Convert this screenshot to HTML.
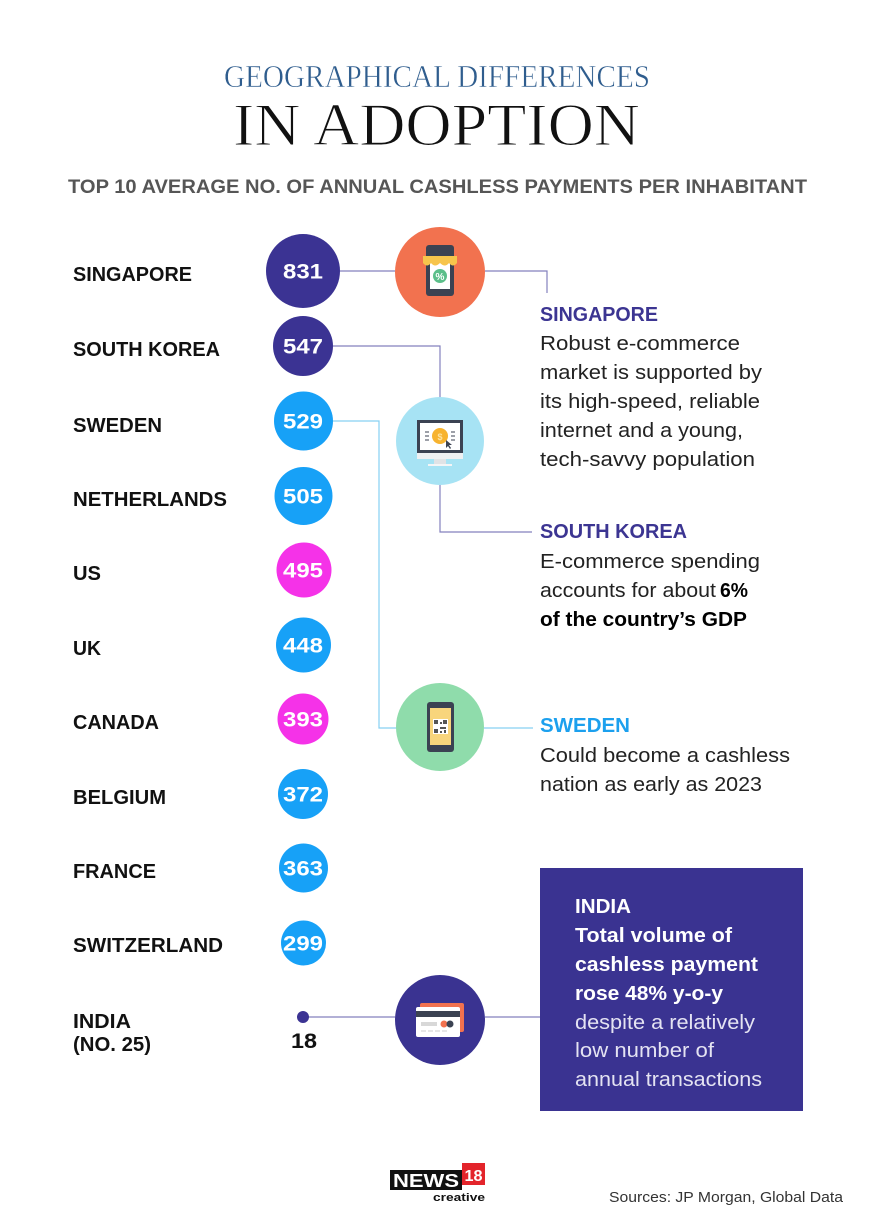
<!DOCTYPE html>
<html><head><meta charset="utf-8"><style>
html,body{margin:0;padding:0;background:#fff;}
svg{display:block;}
text{font-family:"Liberation Sans",sans-serif;}
</style></head><body>
<svg width="875" height="1225" viewBox="0 0 875 1225" xmlns="http://www.w3.org/2000/svg">
<rect width="875" height="1225" fill="#ffffff"/>
<!-- Title -->
<text x="224" y="87" style="font-family:'Liberation Serif',serif" font-size="32" fill="#2f5d8e" stroke="#ffffff" stroke-width="0.5" textLength="426" lengthAdjust="spacingAndGlyphs">GEOGRAPHICAL DIFFERENCES</text>
<text x="233" y="145" style="font-family:'Liberation Serif',serif" font-size="60" fill="#111" stroke="#ffffff" stroke-width="1" textLength="407" lengthAdjust="spacingAndGlyphs">IN ADOPTION</text>
<text x="68" y="193" font-size="19" font-weight="bold" fill="#565656" textLength="739" lengthAdjust="spacingAndGlyphs">TOP 10 AVERAGE NO. OF ANNUAL CASHLESS PAYMENTS PER INHABITANT</text>

<!-- connector lines -->
<g fill="none" stroke-width="1.2">
<path d="M340 271 H395 M485 271 H547 V293" stroke="#8481bd"/>
<path d="M333 346 H440 V397 M440 485 V532 H532" stroke="#8481bd"/>
<path d="M333 421 H379 V728 H397 M484 728 H533" stroke="#86d0f2"/>
<path d="M303 1017 H395 M485 1017 H540" stroke="#8481bd"/>
</g>

<!-- Left labels -->
<g font-size="20" font-weight="bold" fill="#111">
<text x="73" y="281" textLength="119" lengthAdjust="spacingAndGlyphs">SINGAPORE</text>
<text x="73" y="356" textLength="147" lengthAdjust="spacingAndGlyphs">SOUTH KOREA</text>
<text x="73" y="432" textLength="89" lengthAdjust="spacingAndGlyphs">SWEDEN</text>
<text x="73" y="506" textLength="154" lengthAdjust="spacingAndGlyphs">NETHERLANDS</text>
<text x="73" y="580" textLength="28" lengthAdjust="spacingAndGlyphs">US</text>
<text x="73" y="655" textLength="28" lengthAdjust="spacingAndGlyphs">UK</text>
<text x="73" y="729" textLength="86" lengthAdjust="spacingAndGlyphs">CANADA</text>
<text x="73" y="804" textLength="93" lengthAdjust="spacingAndGlyphs">BELGIUM</text>
<text x="73" y="878" textLength="83" lengthAdjust="spacingAndGlyphs">FRANCE</text>
<text x="73" y="952" textLength="150" lengthAdjust="spacingAndGlyphs">SWITZERLAND</text>
<text x="73" y="1028" textLength="58" lengthAdjust="spacingAndGlyphs">INDIA</text>
<text x="73" y="1051" textLength="78" lengthAdjust="spacingAndGlyphs" font-weight="bold">(NO. 25)</text>
</g>

<!-- value circles -->
<circle cx="303" cy="271" r="37" fill="#3b3393"/>
<circle cx="303" cy="346" r="30" fill="#3b3393"/>
<circle cx="303.5" cy="421" r="29.5" fill="#17a1f7"/>
<circle cx="303.5" cy="496" r="29" fill="#17a1f7"/>
<circle cx="304" cy="570" r="27.5" fill="#f532e8"/>
<circle cx="303.5" cy="645" r="27.5" fill="#17a1f7"/>
<circle cx="303" cy="719" r="25.5" fill="#f532e8"/>
<circle cx="303" cy="794" r="25" fill="#17a1f7"/>
<circle cx="303.5" cy="868" r="24.5" fill="#17a1f7"/>
<circle cx="303.5" cy="943" r="22.5" fill="#17a1f7"/>
<circle cx="303" cy="1017" r="6" fill="#3b3393"/>

<g font-size="21" font-weight="bold" fill="#fff" text-anchor="middle">
<text x="303" y="278.5" textLength="40" lengthAdjust="spacingAndGlyphs">831</text>
<text x="303" y="353.5" textLength="40" lengthAdjust="spacingAndGlyphs">547</text>
<text x="303" y="428.5" textLength="40" lengthAdjust="spacingAndGlyphs">529</text>
<text x="303" y="503.5" textLength="40" lengthAdjust="spacingAndGlyphs">505</text>
<text x="303" y="577.5" textLength="40" lengthAdjust="spacingAndGlyphs">495</text>
<text x="303" y="652.5" textLength="40" lengthAdjust="spacingAndGlyphs">448</text>
<text x="303" y="726.5" textLength="40" lengthAdjust="spacingAndGlyphs">393</text>
<text x="303" y="801.5" textLength="40" lengthAdjust="spacingAndGlyphs">372</text>
<text x="303" y="875.5" textLength="40" lengthAdjust="spacingAndGlyphs">363</text>
<text x="303" y="950.5" textLength="40" lengthAdjust="spacingAndGlyphs">299</text>
</g>
<text x="304" y="1048" font-size="21" font-weight="bold" fill="#111" text-anchor="middle" textLength="26" lengthAdjust="spacingAndGlyphs">18</text>

<!-- Icon 1: orange shop phone -->
<circle cx="440" cy="272" r="45" fill="#f2724f"/>
<rect x="426" y="245" width="28" height="51" rx="3" fill="#3b4252"/>
<rect x="430" y="258" width="20" height="31" fill="#ffffff"/>
<path d="M423 256 H457 V263 Q453 268 449 263 Q445 268 440 263 Q435 268 431 263 Q427 268 423 263 Z" fill="#f7c54c"/>
<circle cx="440" cy="276" r="7" fill="#5cbf8a"/>
<text x="440" y="280" font-size="10" font-weight="bold" fill="#fff" text-anchor="middle">%</text>

<!-- Icon 2: monitor -->
<circle cx="440" cy="441" r="44" fill="#a7e3f4"/>
<rect x="417" y="420" width="46" height="33" fill="#3b4252"/>
<rect x="420" y="423" width="40" height="27" fill="#ffffff"/>
<rect x="417" y="453" width="46" height="6" fill="#eef0f2"/>
<rect x="434" y="459" width="12" height="5" fill="#e0e3e6"/>
<rect x="428" y="464" width="24" height="2" fill="#f4f5f6"/>
<circle cx="440" cy="436" r="8" fill="#f7b32f"/>
<text x="440" y="440" font-size="9" font-weight="bold" fill="#fde3a0" text-anchor="middle">$</text>
<path d="M425 432 h4 M425 436 h4 M425 440 h4 M451 432 h4 M451 436 h4 M451 440 h4" stroke="#3b4252" stroke-width="1"/>
<path d="M446 440 l0 8 l2 -2 l2 3 l1 -1 l-2 -3 l3 0 z" fill="#3b4252"/>

<!-- Icon 3: green QR phone -->
<circle cx="440" cy="727" r="44" fill="#8fdcab"/>
<rect x="427" y="702" width="27" height="50" rx="3" fill="#3b4252"/>
<rect x="430" y="708" width="21" height="37" fill="#f8d57c"/>
<rect x="433" y="719" width="15" height="15" fill="#ffffff"/>
<path d="M434 720h4v4h-4z M443 720h4v4h-4z M434 729h4v4h-4z M440 722h2v2h-2z M440 727h6v2h-6z M444 730h2v3h-2z M440 731h2v2h-2z" fill="#555"/>

<!-- Icon 4: cards -->
<circle cx="440" cy="1020" r="45" fill="#3a3391"/>
<rect x="420" y="1003" width="44" height="29" rx="2" fill="#f2724f"/>
<rect x="416" y="1007" width="44" height="30" rx="2" fill="#ffffff"/>
<rect x="416" y="1011" width="44" height="6" fill="#3b4252"/>
<rect x="421" y="1022" width="16" height="4" fill="#d8d8d8"/>
<circle cx="444" cy="1024" r="3.5" fill="#f2724f"/>
<circle cx="450" cy="1024" r="3.5" fill="#3b4252"/>
<path d="M421 1031h5 M428 1031h5 M435 1031h5 M442 1031h5" stroke="#ccc" stroke-width="1"/>

<!-- Right text: Singapore -->
<text x="540" y="321" font-size="20" font-weight="bold" fill="#3c3592" textLength="118" lengthAdjust="spacingAndGlyphs">SINGAPORE</text>
<g font-size="20" fill="#222">
<text x="540" y="350" textLength="200" lengthAdjust="spacingAndGlyphs">Robust e-commerce</text>
<text x="540" y="379" textLength="222" lengthAdjust="spacingAndGlyphs">market is supported by</text>
<text x="540" y="408" textLength="220" lengthAdjust="spacingAndGlyphs">its high-speed, reliable</text>
<text x="540" y="437" textLength="203" lengthAdjust="spacingAndGlyphs">internet and a young,</text>
<text x="540" y="466" textLength="215" lengthAdjust="spacingAndGlyphs">tech-savvy population</text>
</g>

<!-- South Korea -->
<text x="540" y="538" font-size="20" font-weight="bold" fill="#3c3592" textLength="147" lengthAdjust="spacingAndGlyphs">SOUTH KOREA</text>
<g font-size="20" fill="#222">
<text x="540" y="568" textLength="220" lengthAdjust="spacingAndGlyphs">E-commerce spending</text>
<text x="540" y="597" textLength="176" lengthAdjust="spacingAndGlyphs">accounts for about</text>
<text x="720" y="597" font-weight="bold" fill="#000" textLength="28" lengthAdjust="spacingAndGlyphs">6%</text>
<text x="540" y="626" font-weight="bold" fill="#000" textLength="207" lengthAdjust="spacingAndGlyphs">of the country’s GDP</text>
</g>

<!-- Sweden -->
<text x="540" y="732" font-size="20" font-weight="bold" fill="#1ca0ee" textLength="90" lengthAdjust="spacingAndGlyphs">SWEDEN</text>
<g font-size="20" fill="#222">
<text x="540" y="762" textLength="250" lengthAdjust="spacingAndGlyphs">Could become a cashless</text>
<text x="540" y="791" textLength="222" lengthAdjust="spacingAndGlyphs">nation as early as 2023</text>
</g>

<!-- India box -->
<rect x="540" y="868" width="263" height="243" fill="#3a3391"/>
<g font-size="20" fill="#ffffff">
<text x="575" y="913" font-weight="bold" textLength="56" lengthAdjust="spacingAndGlyphs">INDIA</text>
<text x="575" y="942" font-weight="bold" textLength="157" lengthAdjust="spacingAndGlyphs">Total volume of</text>
<text x="575" y="971" font-weight="bold" textLength="183" lengthAdjust="spacingAndGlyphs">cashless payment</text>
<text x="575" y="1000" font-weight="bold" textLength="148" lengthAdjust="spacingAndGlyphs">rose 48% y-o-y</text>
<text x="575" y="1029" fill="#e4e3f2" textLength="180" lengthAdjust="spacingAndGlyphs">despite a relatively</text>
<text x="575" y="1057" fill="#e4e3f2" textLength="139" lengthAdjust="spacingAndGlyphs">low number of</text>
<text x="575" y="1086" fill="#e4e3f2" textLength="187" lengthAdjust="spacingAndGlyphs">annual transactions</text>
</g>

<!-- Footer logo -->
<rect x="390" y="1170" width="72" height="20" fill="#111"/>
<text x="426" y="1187" font-size="18" font-weight="bold" fill="#fff" text-anchor="middle" textLength="66" lengthAdjust="spacingAndGlyphs">NEWS</text>
<rect x="462" y="1163" width="23" height="22" fill="#e3242b"/>
<text x="473.5" y="1181" font-size="16" font-weight="bold" fill="#fff" text-anchor="middle" textLength="18" lengthAdjust="spacingAndGlyphs">18</text>
<text x="433" y="1201" font-size="11" font-weight="bold" fill="#111" textLength="52" lengthAdjust="spacingAndGlyphs">creative</text>

<text x="609" y="1202" font-size="15" fill="#333" textLength="234" lengthAdjust="spacingAndGlyphs">Sources: JP Morgan, Global Data</text>
</svg>
</body></html>
